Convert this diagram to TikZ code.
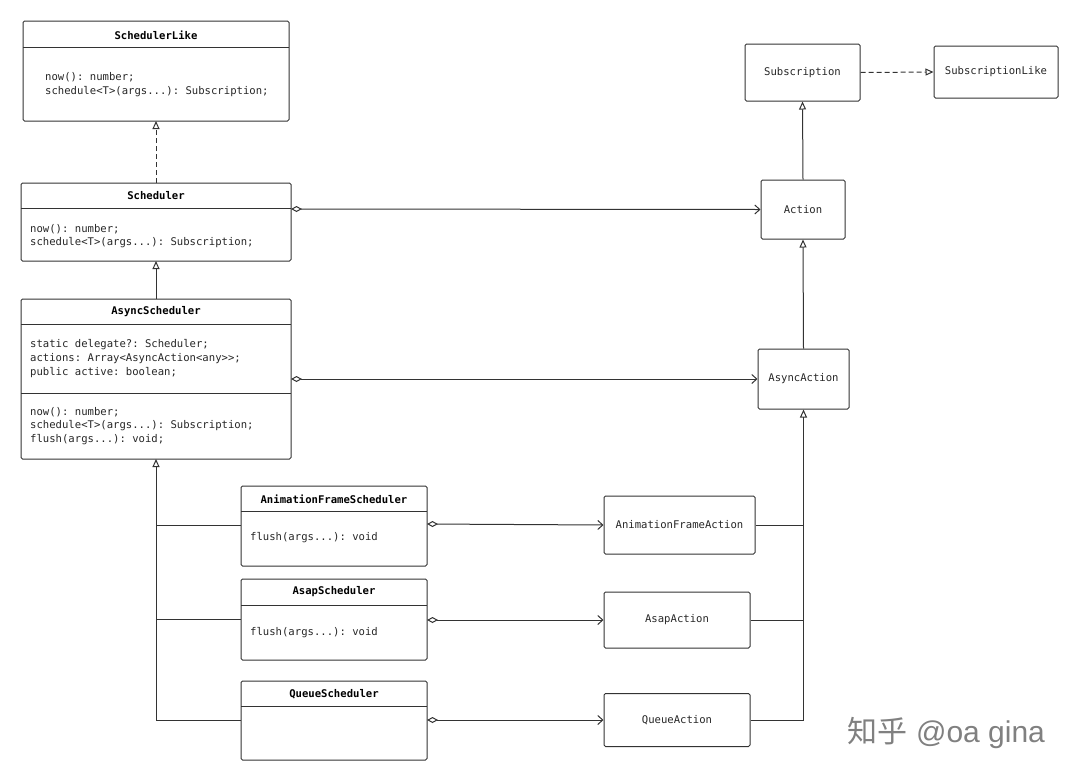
\documentclass[tikz,border=0pt]{standalone}
\usepackage{fontspec}
\setmonofont{DejaVu Sans Mono}
\newfontfamily\cjk{Noto Sans CJK SC}
\usetikzlibrary{arrows.meta}
\tikzset{
 box/.style={draw=black!80,line width=1pt,rounded corners=1.5pt},
 txt/.style={font=\ttfamily\fontsize{10.6}{12}\selectfont,inner sep=0pt,text=black!85},
 ttl/.style={font=\ttfamily\bfseries\fontsize{10.6}{12}\selectfont,inner sep=0pt},
 ln/.style={draw=black!80,line width=1pt},
 inh/.style={ln,-{Triangle[open,length=8pt,width=7pt]}},
 real/.style={ln,dashed,dash pattern=on 5pt off 3pt,-{Triangle[open,length=8pt,width=7pt]}},
 agg/.style={ln,{Diamond[open,length=11pt,width=6pt]}-{Straight Barb[length=5pt,width=9pt]}},
}
\begin{document}
\begin{tikzpicture}[x=1pt,y=-1pt]
\useasboundingbox (0,0) rectangle (1080,780);
% SchedulerLike
\draw[box] (23,21) rectangle (289,121); \draw[ln] (23,47)--(289,47);
\node[ttl] (slt) at (156,35) {SchedulerLike};
\node[txt,anchor=west] (sl1) at (45,77) {now(): number;};
\node[txt,anchor=west] (sl2) at (45,92) {schedule<T>(args...): Subscription;};
\coordinate (slb) at (156,121);
% Scheduler
\draw[box] (21,183) rectangle (291,261); \draw[ln] (21,208)--(291,208);
\node[ttl] (st) at (156,196) {Scheduler};
\node[txt,anchor=west] (s1) at (30,229) {now(): number;};
\node[txt,anchor=west] (s2) at (30,243) {schedule<T>(args...): Subscription;};
\coordinate (stop) at (156,183); \coordinate (sbot) at (156,261); \coordinate (sr) at (291,209);
% AsyncScheduler
\draw[box] (21,299) rectangle (291,459); \draw[ln] (21,324)--(291,324); \draw[ln] (21,393)--(291,393);
\node[ttl] (ast) at (156,312) {AsyncScheduler};
\node[txt,anchor=west] (a1) at (30,345) {static delegate?: Scheduler;};
\node[txt,anchor=west] (a2) at (30,359) {actions: Array<AsyncAction<any>{}>;};
\node[txt,anchor=west] (a3) at (30,373) {public active: boolean;};
\node[txt,anchor=west] (a4) at (30,412) {now(): number;};
\node[txt,anchor=west] (a5) at (30,426) {schedule<T>(args...): Subscription;};
\node[txt,anchor=west] (a6) at (30,440) {flush(args...): void;};
\coordinate (atop) at (156,299); \coordinate (abot) at (156,459); \coordinate (ar) at (291,379);
% AnimationFrameScheduler
\draw[box] (241,486) rectangle (427,566); \draw[ln] (241,511)--(427,511);
\node[ttl] (aft) at (334,499) {AnimationFrameScheduler};
\node[txt,anchor=west] (af1) at (250,538) {flush(args...): void};
\coordinate (afl) at (241,525); \coordinate (afr) at (427,524);
% AsapScheduler
\draw[box] (241,579) rectangle (427,660); \draw[ln] (241,605)--(427,605);
\node[ttl] (aspt) at (334,592) {AsapScheduler};
\node[txt,anchor=west] (as1) at (250,633) {flush(args...): void};
\coordinate (asl) at (241,619); \coordinate (asr) at (427,620);
% QueueScheduler
\draw[box] (241,681) rectangle (427,760); \draw[ln] (241,706)--(427,706);
\node[ttl] (qt) at (334,694) {QueueScheduler};
\coordinate (ql) at (241,720); \coordinate (qr) at (427,720);
% right side
\node[box,txt,minimum width=115pt,minimum height=57pt] (sub) at (802.5,72.5) {Subscription};
\node[box,txt,minimum width=124pt,minimum height=52pt] (subl) at (996,72) {SubscriptionLike};
\node[box,txt,minimum width=84pt,minimum height=59pt] (act) at (803,209.5) {Action};
\node[box,txt,minimum width=91pt,minimum height=60pt] (aact) at (803.5,379) {AsyncAction};
\node[box,txt,minimum width=151pt,minimum height=58pt] (afa) at (679.5,525) {AnimationFrameAction};
\node[box,txt,minimum width=146pt,minimum height=56pt] (asa) at (677,620) {AsapAction};
\node[box,txt,minimum width=146pt,minimum height=53pt] (qa) at (677,720) {QueueAction};
% connectors
\draw[real] (stop) -- (slb);
\draw[inh] (atop) -- (sbot);
\draw[agg] (sr) -- (act.west);
\draw[agg] (ar) -- (aact.west);
\draw[inh] (156,720) -- (abot);
\draw[ln] (156,525) -- (afl); \draw[ln] (156,619) -- (asl); \draw[ln] (156,720) -- (ql);
\draw[agg] (afr) -- (afa.west);
\draw[agg] (asr) -- (asa.west);
\draw[agg] (qr) -- (qa.west);
\draw[inh] (qa.east) -| (aact.south);
\draw[ln] (afa.east) -- (aact.south |- afa.east);
\draw[ln] (asa.east) -- (aact.south |- asa.east);
\draw[inh] (aact.north) -- (act.south);
\draw[inh] (act.north) -- (sub.south);
\draw[real] (sub.east) -- (subl.west);
\node[text=black!50,font=\fontsize{30}{34}\selectfont,inner sep=0pt] (wm) at (946,733) {{\cjk 知乎} {\fontspec{Liberation Sans}@oa gina}};
\end{tikzpicture}
\end{document}
